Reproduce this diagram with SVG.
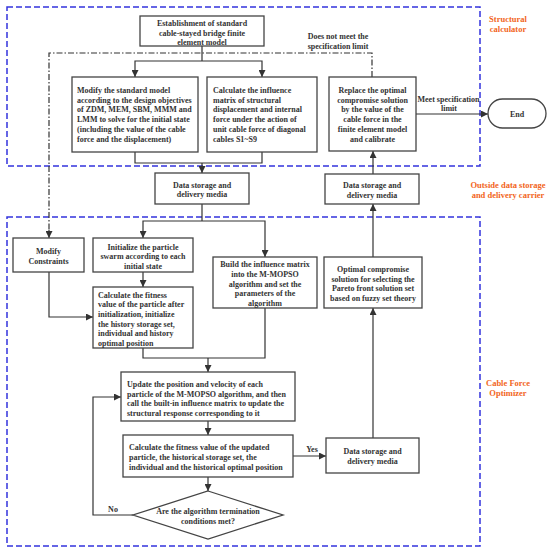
<svg xmlns="http://www.w3.org/2000/svg" width="549" height="550" viewBox="0 0 549 550">
<defs>
<marker id="ah" viewBox="0 0 10 10" refX="10" refY="5" markerWidth="7" markerHeight="7" markerUnits="userSpaceOnUse" orient="auto">
<path d="M0,0 L10,5 L0,10 z" fill="#333"/>
</marker>
<style>
.box{fill:#fff;stroke:#444;stroke-width:1.3}
.t{font-family:"Liberation Serif","Times New Roman",serif;font-weight:bold;font-size:8px;fill:#333}
.c{text-anchor:middle}
.o{font-family:"Liberation Serif","Times New Roman",serif;font-weight:bold;font-size:8.5px;fill:#f26522;text-anchor:middle}
.zone{fill:none;stroke:#3333dd;stroke-width:1.5;stroke-dasharray:6,3}
.ln{fill:none;stroke:#333;stroke-width:1.2}
.ar{fill:none;stroke:#333;stroke-width:1.2;marker-end:url(#ah)}
.dd{fill:none;stroke:#333;stroke-width:1.2;stroke-dasharray:6,2,1.5,2}
</style>
</defs>
<rect width="549" height="550" fill="#fff"/>

<g id="zones">
<rect class="zone" x="7" y="7" width="473" height="159"/>
<rect class="zone" x="7" y="217" width="473" height="329"/>
<text class="o" x="508" y="22">Structural</text>
<text class="o" x="508" y="31.5">calculator</text>
<text class="o" x="508" y="188">Outside data storage</text>
<text class="o" x="508" y="198">and delivery carrier</text>
<text class="o" x="508" y="386">Cable Force</text>
<text class="o" x="508" y="396">Optimizer</text>
</g>

<g id="connectors">
<polyline class="ln" points="202,46 202,61"/>
<polyline class="ar" points="202,61 135,61 135,77"/>
<polyline class="ar" points="202,61 262,61 262,77"/>
<polyline class="ln" points="135,152 135,163 262,163 262,152"/>
<polyline class="ar" points="202,163 202,173"/>
<polyline class="ln" points="202,204 202,221"/>
<polyline class="ar" points="202,221 143,221 143,238"/>
<polyline class="ar" points="202,221 265,221 265,257"/>
<polyline class="ar" points="143,272 143,287"/>
<polyline class="ar" points="49,272 49,317 93,317"/>
<polyline class="ln" points="143,348 143,358 265,358 265,308"/>
<polyline class="ar" points="208,358 208,372"/>
<polyline class="ar" points="208,421 208,435"/>
<polyline class="ar" points="208,477 208,491"/>
<polyline class="ar" points="133,515 93,515 93,397 121,397"/>
<polyline class="ar" points="293,456 326,456"/>
<polyline class="ar" points="373,438 373,308"/>
<polyline class="ar" points="373,257 373,204"/>
<polyline class="ar" points="373,174 373,151"/>
<polyline class="ar" points="416,114 488,114"/>
<polyline class="dd" points="372,77 372,53 49,53 49,232"/>
<polyline class="ar" points="49,230 49,238"/>
<text class="t c" x="338" y="39">Does not meet the</text>
<text class="t c" x="338" y="48.5">specification limit</text>
<text class="t c" x="448.5" y="101.5">Meet specification</text>
<text class="t c" x="449" y="111">limit</text>
<text class="t c" x="113" y="512">No</text>
<text class="t c" x="312" y="452">Yes</text>
</g>

<g id="n-establish">
<rect class="box" x="140" y="16" width="124" height="30"/>
<text class="t c" x="202" y="26">Establishment of standard</text>
<text class="t c" x="202" y="35.5">cable-stayed bridge finite</text>
<text class="t c" x="202" y="45">element model</text>
</g>

<g id="n-modify-model">
<rect class="box" x="72" y="77" width="126" height="75"/>
<text class="t" x="77" y="93">Modify the standard model</text>
<text class="t" x="77" y="102.7">according to the design objectives</text>
<text class="t" x="77" y="112.4">of ZDM, MEM, SBM, MMM and</text>
<text class="t" x="77" y="122.1">LMM to solve for the initial state</text>
<text class="t" x="77" y="131.8">(including the value of the cable</text>
<text class="t" x="77" y="141.5">force and the displacement)</text>
</g>

<g id="n-calc-influence">
<rect class="box" x="207" y="77" width="110" height="75"/>
<text class="t" x="213" y="93">Calculate the influence</text>
<text class="t" x="213" y="102.7">matrix of structural</text>
<text class="t" x="213" y="112.4">displacement and internal</text>
<text class="t" x="213" y="122.1">force under the action of</text>
<text class="t" x="213" y="131.8">unit cable force of diagonal</text>
<text class="t" x="213" y="141.5">cables S1~S9</text>
</g>

<g id="n-replace">
<rect class="box" x="329" y="77" width="87" height="74"/>
<text class="t c" x="372.5" y="93">Replace the optimal</text>
<text class="t c" x="372.5" y="102.7">compromise solution</text>
<text class="t c" x="372.5" y="112.4">by the value of the</text>
<text class="t c" x="372.5" y="122.1">cable force in the</text>
<text class="t c" x="372.5" y="131.8">finite element model</text>
<text class="t c" x="372.5" y="141.5">and calibrate</text>
</g>

<g id="n-end">
<rect class="box" x="488" y="99" width="58" height="29" rx="14.5" ry="14.5"/>
<text class="t c" x="517" y="117">End</text>
</g>

<g id="n-data1">
<rect class="box" x="155" y="173" width="94" height="31"/>
<text class="t c" x="202" y="187.5">Data storage and</text>
<text class="t c" x="202" y="197">delivery media</text>
</g>

<g id="n-data2">
<rect class="box" x="325" y="174" width="94" height="30"/>
<text class="t c" x="372" y="188">Data storage and</text>
<text class="t c" x="372" y="198">delivery media</text>
</g>

<g id="n-modify-constraints">
<rect class="box" x="13" y="238" width="71" height="34"/>
<text class="t c" x="48.5" y="254">Modify</text>
<text class="t c" x="48.5" y="263.5">Constraints</text>
</g>

<g id="n-init">
<rect class="box" x="93" y="238" width="100" height="34"/>
<text class="t c" x="143" y="249.5">Initialize the particle</text>
<text class="t c" x="143" y="259">swarm according to each</text>
<text class="t c" x="143" y="269">initial state</text>
</g>

<g id="n-fitness-init">
<rect class="box" x="93" y="287" width="100" height="61"/>
<text class="t" x="98" y="297.5">Calculate the fitness</text>
<text class="t" x="98" y="307">value of the particle after</text>
<text class="t" x="98" y="317">initialization, initialize</text>
<text class="t" x="98" y="326.5">the history storage set,</text>
<text class="t" x="98" y="336">individual and history</text>
<text class="t" x="98" y="346">optimal position</text>
</g>

<g id="n-build">
<rect class="box" x="213" y="257" width="104" height="51"/>
<text class="t c" x="265" y="267">Build the influence matrix</text>
<text class="t c" x="265" y="277">into the M-MOPSO</text>
<text class="t c" x="265" y="286.5">algorithm and set the</text>
<text class="t c" x="265" y="296">parameters of the</text>
<text class="t c" x="265" y="305.8">algorithm</text>
</g>

<g id="n-optimal">
<rect class="box" x="324" y="257" width="98" height="51"/>
<text class="t c" x="373" y="272">Optimal compromise</text>
<text class="t c" x="373" y="281.5">solution for selecting the</text>
<text class="t c" x="373" y="291">Pareto front solution set</text>
<text class="t c" x="373" y="301">based on fuzzy set theory</text>
</g>

<g id="n-update">
<rect class="box" x="121" y="372" width="174" height="49"/>
<text class="t" x="127" y="387">Update the position and velocity of each</text>
<text class="t" x="127" y="396.5">particle of the M-MOPSO algorithm, and then</text>
<text class="t" x="127" y="406">call the built-in influence matrix to update the</text>
<text class="t" x="127" y="415.5">structural response corresponding to it</text>
</g>

<g id="n-fitness-update">
<rect class="box" x="123" y="435" width="170" height="42"/>
<text class="t" x="129" y="450">Calculate the fitness value of the updated</text>
<text class="t" x="129" y="459.8">particle, the historical storage set, the</text>
<text class="t" x="129" y="469.5">individual and the historical optimal position</text>
</g>

<g id="n-data3">
<rect class="box" x="326" y="438" width="93" height="35"/>
<text class="t c" x="372.5" y="454">Data storage and</text>
<text class="t c" x="372.5" y="464">delivery media</text>
</g>

<g id="n-decision">
<polygon class="box" points="208,491 283,515 208,539 133,515"/>
<text class="t c" x="208" y="514">Are the algorithm termination</text>
<text class="t c" x="208" y="524">conditions met?</text>
</g>
</svg>
